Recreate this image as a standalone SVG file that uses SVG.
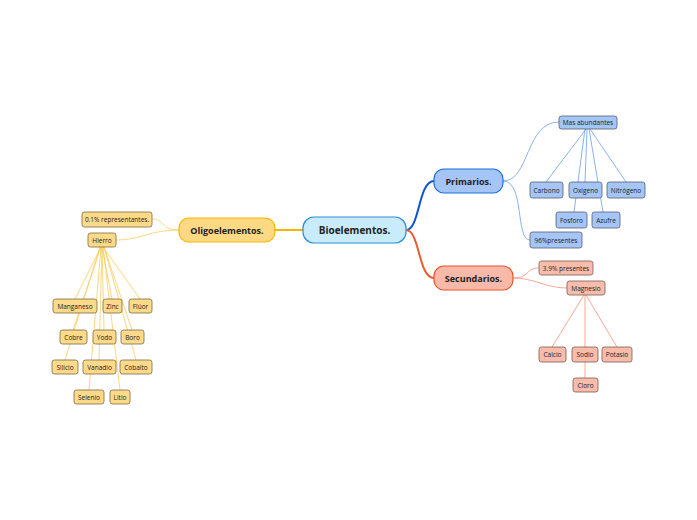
<svg xmlns="http://www.w3.org/2000/svg" width="697" height="520" viewBox="0 0 697 520">
<style>
text{font-family:"Open Sans","Noto Sans",sans-serif;text-anchor:middle;dominant-baseline:central;fill:#222}
.big{font-size:10px;font-weight:bold}
.sm{font-size:6.5px}
.b{fill:#a4c5f5;stroke:#555e70;stroke-width:0.8}
.r{fill:#f8bcab;stroke:#7a5a50;stroke-width:0.8}
.y{fill:#fdd98a;stroke:#7a6a40;stroke-width:0.8}
.cb{stroke:#6d9ee8;stroke-width:0.8;fill:none}
.cr{stroke:#f49378;stroke-width:0.8;fill:none}
.cy{stroke:#fbcd5f;stroke-width:0.8;fill:none}
</style>
<rect width="697" height="520" fill="#fff"/>
<g id="connectors">
<path d="M406,230 C420,230 418,181 434,181" stroke="#0b55d4" stroke-width="2" fill="none"/>
<path d="M406,230 C420,230 418,278 434,278" stroke="#ed5a2e" stroke-width="2" fill="none"/>
<path d="M303,230 L275,230" stroke="#f6b600" stroke-width="2" fill="none"/>
<path class="cb" d="M503,181 C530,181 525,122 559,122"/>
<path class="cb" d="M503,181 C525,181 515,240 530,240"/>
<path class="cb" d="M586,129 L546,182 M587,129 L585,182 M589,129 L603,212 M590,129 L626,182 M585,129 L574,212"/>
<path class="cr" d="M513,278 C530,278 525,268 539,268"/>
<path class="cr" d="M513,278 C535,278 545,288 567,288"/>
<path class="cr" d="M584,295 L552,347 M585,295 L585,347 M586,295 L617,347 M585,362 L585,378"/>
<path class="cy" d="M179,230 C160,230 165,219 152,219"/>
<path class="cy" d="M179,230 C150,230 140,240 116,240"/>
<path class="cy" d="M101,247 L75,299 M102,247 L112,299 M103,247 L140,299 M101,247 L73,330 M102,247 L104,330 M104,247 L132,330 M100,247 L65,360 M102,247 L99,360 M104,247 L136,360 M101,247 L89,390 M103,247 L120,390"/>
</g>
<g id="bioelementos"><rect x="303" y="217" width="103" height="26" rx="11" fill="#c8ecfc" stroke="#2d8ed8" stroke-width="1.2"/><text class="big" x="354.5" y="230">Bioelementos.</text></g>
<g id="primarios"><rect x="434" y="169" width="69" height="24" rx="10" fill="#a4c5f5" stroke="#1f6fe0" stroke-width="1.2"/><text class="big" x="468.5" y="181" style="font-size:9px">Primarios.</text></g>
<g id="secundarios"><rect x="434" y="266" width="79" height="24" rx="10" fill="#f8b9a8" stroke="#e9542c" stroke-width="1.2"/><text class="big" x="473.5" y="278" style="font-size:9px">Secundarios.</text></g>
<g id="oligoelementos"><rect x="179" y="218" width="96" height="24" rx="10" fill="#fed882" stroke="#f5b800" stroke-width="1.2"/><text class="big" x="227" y="230" style="font-size:9px">Oligoelementos.</text></g>
<g id="mas"><rect class="b" x="559" y="116" width="58" height="13" rx="2.5"/><text class="sm" x="588" y="122.5">Mas abundantes</text></g>
<g id="carbono"><rect class="b" x="530" y="182" width="33" height="16" rx="2.5"/><text class="sm" x="546.5" y="190">Carbono</text></g>
<g id="oxigeno"><rect class="b" x="569" y="182" width="33" height="16" rx="2.5"/><text class="sm" x="585.5" y="190">Oxigeno</text></g>
<g id="nitrogeno"><rect class="b" x="607" y="182" width="38" height="16" rx="2.5"/><text class="sm" x="626" y="190">Nitrógeno</text></g>
<g id="fosforo"><rect class="b" x="556" y="212" width="31" height="16" rx="2.5"/><text class="sm" x="571.5" y="220">Fosforo</text></g>
<g id="azufre"><rect class="b" x="592" y="212" width="28" height="16" rx="2.5"/><text class="sm" x="606" y="220">Azufre</text></g>
<g id="p96"><rect class="b" x="530" y="232" width="52" height="16" rx="2.5"/><text class="sm" x="556" y="240">96%presentes</text></g>
<g id="p39"><rect class="r" x="539" y="261" width="54" height="14" rx="2.5"/><text class="sm" x="566" y="268">3.9% presentes</text></g>
<g id="magnesio"><rect class="r" x="567" y="281" width="38" height="14" rx="2.5"/><text class="sm" x="586" y="288">Magnesio</text></g>
<g id="calcio"><rect class="r" x="539" y="347" width="27" height="15" rx="2.5"/><text class="sm" x="552.5" y="354.5">Calcio</text></g>
<g id="sodio"><rect class="r" x="572" y="347" width="26" height="15" rx="2.5"/><text class="sm" x="585" y="354.5">Sodio</text></g>
<g id="potasio"><rect class="r" x="602" y="347" width="30" height="15" rx="2.5"/><text class="sm" x="617" y="354.5">Potasio</text></g>
<g id="cloro"><rect class="r" x="573" y="378" width="25" height="14" rx="2.5"/><text class="sm" x="585.5" y="385">Cloro</text></g>
<g id="p01"><rect class="y" x="82" y="212" width="70" height="15" rx="2.5"/><text class="sm" x="117" y="219.5">0.1% representantes.</text></g>
<g id="hierro"><rect class="y" x="88" y="233" width="28" height="14" rx="2.5"/><text class="sm" x="102" y="240">Hierro</text></g>
<g id="manganeso"><rect class="y" x="53" y="299" width="44" height="14" rx="2.5"/><text class="sm" x="75" y="306">Manganeso</text></g>
<g id="zinc"><rect class="y" x="103" y="299" width="19" height="14" rx="2.5"/><text class="sm" x="112.5" y="306">Zinc</text></g>
<g id="fluor"><rect class="y" x="129" y="299" width="23" height="14" rx="2.5"/><text class="sm" x="140.5" y="306">Flúor</text></g>
<g id="cobre"><rect class="y" x="60" y="330" width="27" height="14" rx="2.5"/><text class="sm" x="73.5" y="337">Cobre</text></g>
<g id="yodo"><rect class="y" x="93" y="330" width="23" height="14" rx="2.5"/><text class="sm" x="104.5" y="337">Yodo</text></g>
<g id="boro"><rect class="y" x="121" y="330" width="23" height="14" rx="2.5"/><text class="sm" x="132.5" y="337">Boro</text></g>
<g id="silicio"><rect class="y" x="52" y="360" width="26" height="14" rx="2.5"/><text class="sm" x="65" y="367">Silicio</text></g>
<g id="vanadio"><rect class="y" x="83" y="360" width="33" height="14" rx="2.5"/><text class="sm" x="99.5" y="367">Vanadio</text></g>
<g id="cobalto"><rect class="y" x="120" y="360" width="32" height="14" rx="2.5"/><text class="sm" x="136" y="367">Cobalto</text></g>
<g id="selenio"><rect class="y" x="74" y="390" width="30" height="14" rx="2.5"/><text class="sm" x="89" y="397">Selenio</text></g>
<g id="litio"><rect class="y" x="110" y="390" width="20" height="14" rx="2.5"/><text class="sm" x="120" y="397">Litio</text></g>
</svg>
